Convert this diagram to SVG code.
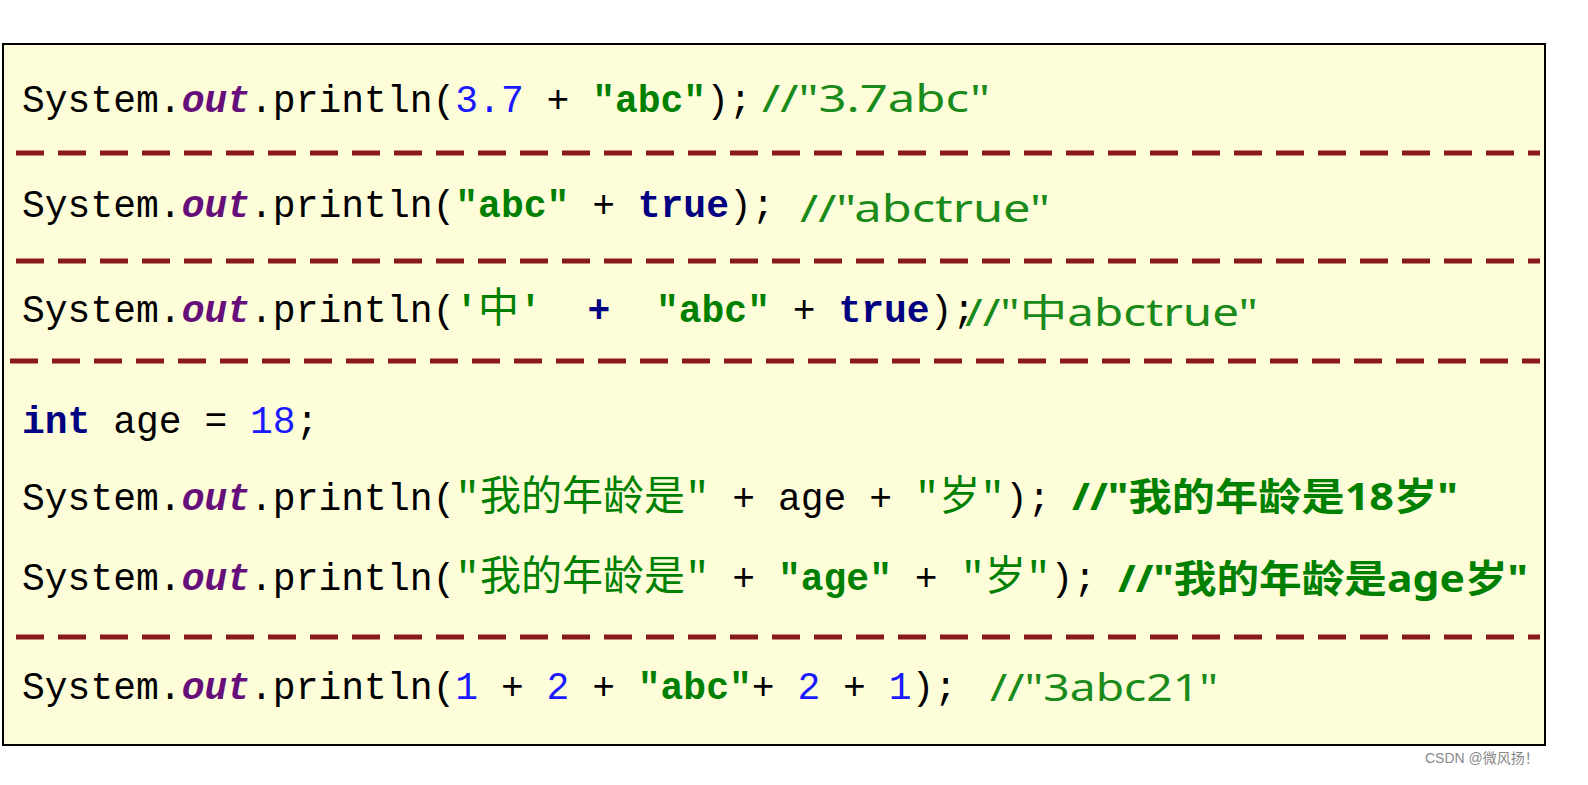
<svg xmlns="http://www.w3.org/2000/svg" width="1588" height="785" viewBox="0 0 1588 785">
<style>
.c{font-family:"Liberation Mono","Noto Sans CJK SC",monospace;font-size:38px;fill:#000;white-space:pre}
.cm{font-family:"Noto Sans","Noto Sans CJK SC",sans-serif;font-size:38px;fill:#1a8a1a}
.o{fill:#660e7a;font-weight:bold;font-style:italic}
.n{fill:#1a1aff}
.s{fill:#008000;font-weight:bold}
.z{fill:#008000;font-size:41px}
.k{fill:#000080;font-weight:bold}
.b{font-weight:bold;fill:#008000}
.d{stroke:#8b1a1a;stroke-width:5;stroke-dasharray:28 14}
</style>
<rect width="1588" height="785" fill="#fff"/>
<rect x="3" y="44" width="1542" height="701" fill="#fdfdd9" stroke="#000" stroke-width="2"/>
<g id="sep">
<line class="d" x1="16" y1="153" x2="1540" y2="153"/>
<line class="d" x1="16" y1="261" x2="1540" y2="261"/>
<line class="d" x1="10" y1="361" x2="1540" y2="361"/>
<line class="d" x1="16" y1="637" x2="1540" y2="637"/>
</g>
<g id="l1"><text class="c" x="22" y="112">System.<tspan class="o">out</tspan>.println(<tspan class="n">3.7</tspan> + <tspan class="s">"abc"</tspan>);</text><text class="cm" x="762" y="112" textLength="228" lengthAdjust="spacingAndGlyphs">//"3.7abc"</text></g>
<g id="l2"><text class="c" x="22" y="217">System.<tspan class="o">out</tspan>.println(<tspan class="s">"abc"</tspan> + <tspan class="k">true</tspan>);</text><text class="cm" x="800" y="222" textLength="250" lengthAdjust="spacingAndGlyphs">//"abctrue"</text></g>
<g id="l3"><text class="c" x="22" y="322">System.<tspan class="o">out</tspan>.println(<tspan class="s">'</tspan><tspan class="z">中</tspan><tspan class="s">'</tspan>  <tspan class="k">+</tspan>  <tspan class="s">"abc"</tspan> + <tspan class="k">true</tspan>);</text><text class="cm" x="965" y="326" textLength="293" lengthAdjust="spacingAndGlyphs">//"中abctrue"</text></g>
<g id="l4"><text class="c" x="22" y="433"><tspan class="k">int</tspan> age = <tspan class="n">18</tspan>;</text></g>
<g id="l5"><text class="c" x="22" y="510">System.<tspan class="o">out</tspan>.println(<tspan class="z">"我的年龄是"</tspan> + age + <tspan class="z">"岁"</tspan>);</text><text class="cm b" x="1072" y="510" textLength="386" lengthAdjust="spacingAndGlyphs">//"我的年龄是18岁"</text></g>
<g id="l6"><text class="c" x="22" y="590">System.<tspan class="o">out</tspan>.println(<tspan class="z">"我的年龄是"</tspan> + <tspan class="s">"age"</tspan> + <tspan class="z">"岁"</tspan>);</text><text class="cm b" x="1118" y="592" textLength="410" lengthAdjust="spacingAndGlyphs">//"我的年龄是age岁"</text></g>
<g id="l7"><text class="c" x="22" y="699">System.<tspan class="o">out</tspan>.println(<tspan class="n">1</tspan> + <tspan class="n">2</tspan> + <tspan class="s">"abc"</tspan>+ <tspan class="n">2</tspan> + <tspan class="n">1</tspan>);</text><text class="cm" x="990" y="701" textLength="228" lengthAdjust="spacingAndGlyphs">//"3abc21"</text></g>
<text x="1425" y="763" font-family="Liberation Sans,Noto Sans CJK SC,sans-serif" font-size="14" fill="#888">CSDN @微风扬！</text>
</svg>
